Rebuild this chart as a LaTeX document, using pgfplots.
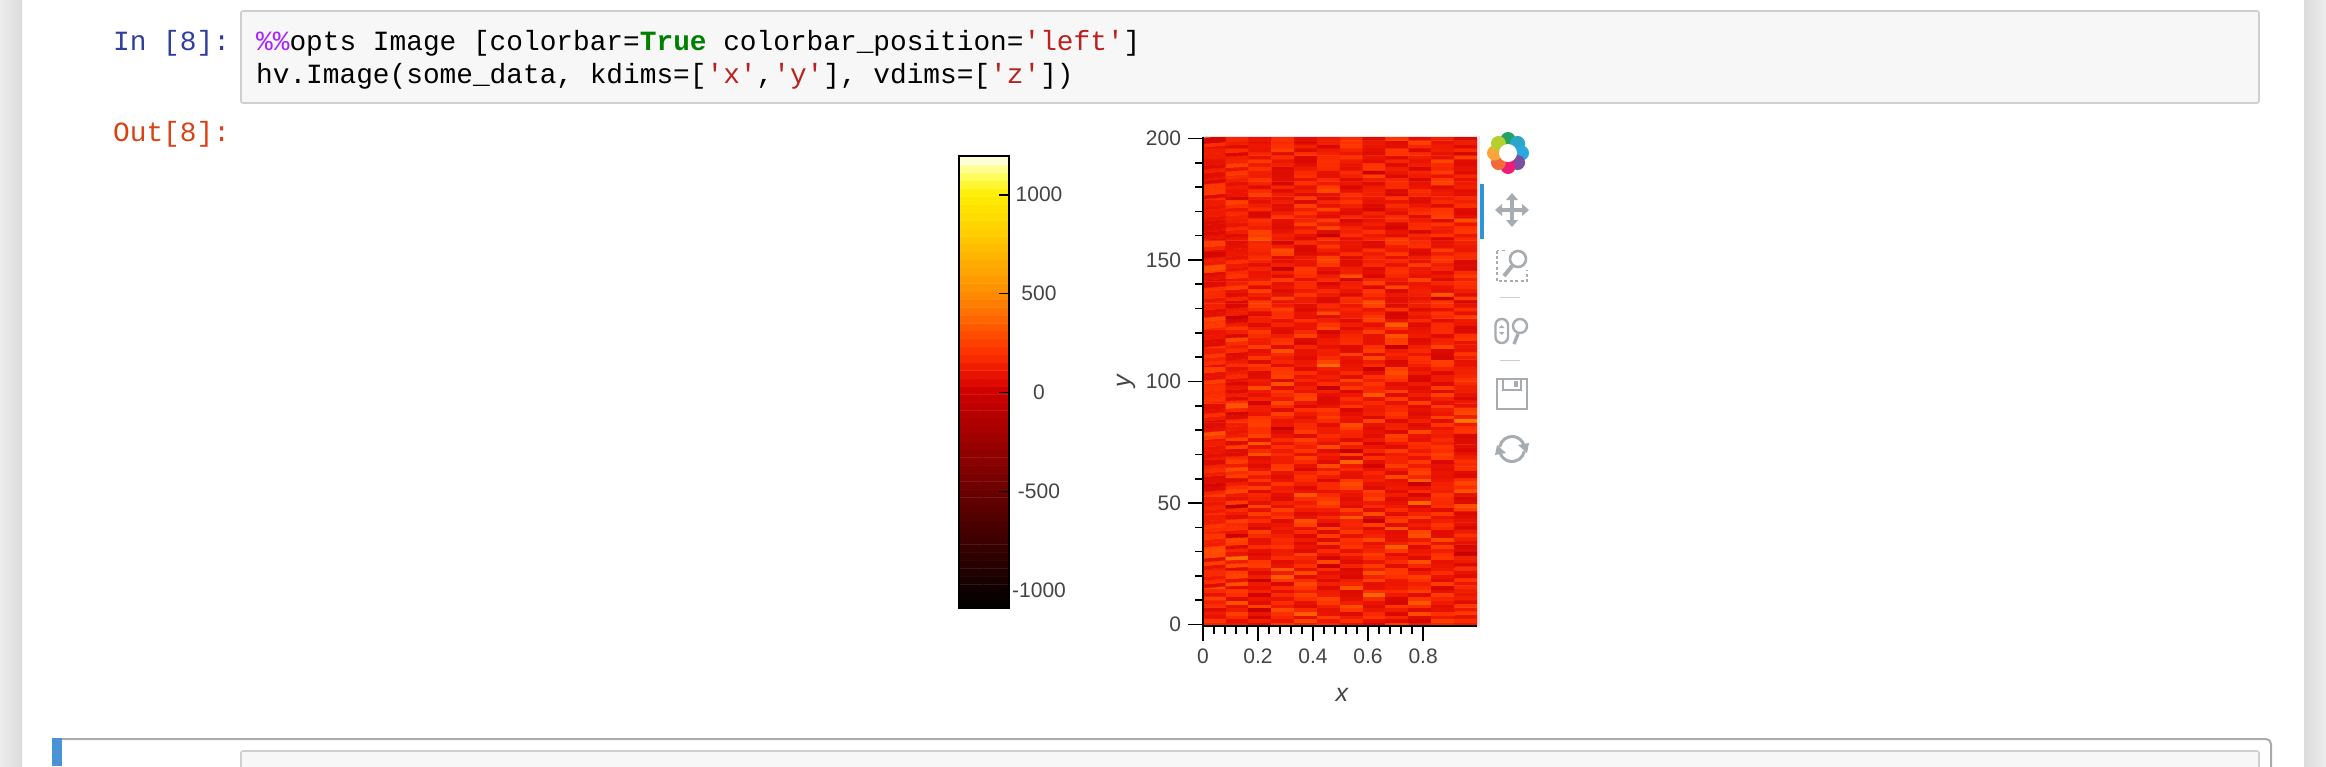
\documentclass[border=0pt]{standalone}
\usepackage{fontspec}
\setmainfont{Liberation Sans}
\newfontfamily\codefont{Liberation Mono}
\usepackage{pgfplots}
\usepackage{pgfplotstable}
\pgfplotsset{compat=1.18}
\definecolor{cellbg}{HTML}{F7F7F7}
\definecolor{cellln}{HTML}{CFCFCF}
\definecolor{promptin}{HTML}{303F9F}
\definecolor{promptout}{HTML}{D84315}
\definecolor{toolgr}{HTML}{A6ACAF}
\definecolor{lab}{HTML}{444444}
\definecolor{kwgreen}{HTML}{008000}
\definecolor{strred}{HTML}{BA2121}
\definecolor{magic}{HTML}{AA22FF}
\newcommand{\codesize}{\fontsize{27.8}{30}\selectfont\codefont}
\newcommand{\labsize}{\fontsize{21}{23}\selectfont}
\pgfplotsset{
  colormap={firemap}{
    rgb255(0)=(0,0,0)
    rgb255(590)=(106,0,0)
    rgb255(1090)=(205,0,0)
    rgb255(1190)=(235,20,0)
    rgb255(1290)=(255,50,0)
    rgb255(1590)=(255,140,0)
    rgb255(1890)=(255,205,0)
    rgb255(2090)=(255,238,0)
    rgb255(2190)=(255,255,100)
    rgb255(2286)=(255,255,255)
  },
  colormap name=firemap
}
% z values, one per line, 12 per image row, bottom row first
\pgfplotstableread[header=false]{
150
120
60
210
130
170
90
40
230
110
160
120
210
90
140
110
260
120
190
100
70
30
240
180
90
170
30
160
80
240
130
210
160
60
120
90
120
240
100
190
350
100
60
170
40
280
190
230
60
130
-20
280
170
90
220
110
130
60
90
120
180
90
250
120
60
140
290
60
210
190
70
210
140
300
70
180
90
220
130
100
30
320
120
60
240
60
110
100
190
250
80
170
40
210
160
140
90
190
20
170
250
130
60
380
120
60
230
110
170
220
150
80
140
120
50
190
180
240
80
130
290
70
90
170
210
60
310
90
120
170
30
170
60
300
120
40
270
140
160
80
110
140
230
110
190
90
-30
220
180
60
130
250
110
190
60
200
120
260
130
340
70
120
40
150
190
240
100
60
170
230
60
130
280
80
60
300
220
120
180
90
140
60
120
320
90
170
40
140
210
50
120
180
90
270
230
100
190
-10
150
230
70
160
110
40
240
130
210
70
130
270
60
110
170
290
90
120
70
400
90
180
160
30
100
190
130
60
210
140
280
100
50
130
240
110
180
240
70
130
190
-40
300
160
80
120
60
170
90
150
210
110
130
60
270
60
180
210
100
60
210
130
350
60
230
40
130
230
90
160
60
250
170
90
140
200
100
80
140
260
90
170
120
60
190
270
90
120
280
130
210
10
170
140
50
230
90
150
80
300
70
190
130
110
240
100
170
60
220
120
70
260
60
120
180
190
50
130
90
250
140
60
310
90
170
40
210
170
90
110
240
30
160
240
70
130
200
80
130
230
180
60
290
110
150
-20
230
90
140
90
130
70
120
210
90
170
330
60
190
250
100
60
190
120
230
160
60
90
130
280
70
150
210
40
120
170
90
240
120
130
240
70
180
100
60
230
150
-50
260
90
170
200
60
170
120
40
190
290
110
220
80
150
130
270
100
120
90
370
170
60
130
90
140
60
180
220
70
240
60
110
180
40
230
120
160
80
310
170
100
190
130
30
210
90
160
260
60
140
100
90
120
240
70
170
130
300
50
190
240
120
60
170
240
60
120
100
150
190
30
130
90
200
130
170
280
90
110
-10
140
260
70
60
210
100
170
50
220
140
90
330
110
180
60
240
120
70
190
130
80
120
270
160
90
50
130
180
220
100
150
210
90
160
60
250
100
60
180
290
110
240
40
120
170
100
130
210
70
190
150
130
60
210
90
280
120
20
230
130
90
170
60
230
100
130
170
60
360
80
150
220
40
190
120
170
70
130
240
110
40
190
150
100
210
130
80
60
300
170
90
140
260
60
130
190
250
90
110
60
170
120
210
70
-30
160
230
120
180
40
100
240
90
190
140
280
130
110
60
170
210
70
130
60
320
100
170
90
230
30
120
190
140
60
110
260
80
170
240
140
60
120
200
90
170
50
220
130
250
100
60
180
150
70
240
100
130
40
300
110
190
60
230
120
160
90
50
270
140
210
80
120
190
-20
170
130
230
60
150
80
100
190
60
130
240
110
170
70
290
90
140
60
210
120
40
180
230
100
130
170
90
250
60
140
70
430
120
60
200
160
80
230
110
50
170
90
250
130
190
30
100
240
120
170
80
140
210
60
110
280
90
160
130
60
190
220
40
120
170
90
130
240
70
310
120
170
50
100
210
130
160
60
230
90
140
190
20
270
110
60
130
170
90
240
80
120
200
60
150
120
260
50
180
100
220
70
140
40
190
130
90
170
230
80
110
330
60
130
250
90
170
60
120
210
100
140
40
170
240
90
60
130
190
110
280
70
140
-40
220
160
100
60
230
130
170
40
110
300
90
180
130
210
70
120
50
170
240
90
130
60
160
100
260
140
190
30
120
210
90
170
60
250
110
140
70
190
230
40
120
160
90
130
60
220
180
100
170
70
290
120
50
140
230
90
170
200
60
130
110
-10
240
90
150
130
60
180
210
70
120
390
100
170
50
140
230
90
190
120
60
160
110
260
80
130
40
180
240
90
150
70
210
130
60
170
100
280
120
190
30
140
220
60
110
170
90
130
250
70
160
110
40
210
130
180
80
300
90
140
60
230
120
170
50
100
200
130
240
70
160
90
60
190
-30
140
260
110
60
170
120
220
40
130
180
90
240
70
150
100
60
280
130
190
50
120
170
90
230
60
140
210
110
40
170
130
250
80
160
90
310
120
60
190
100
140
220
60
170
30
130
240
90
110
180
50
160
210
130
70
100
270
60
140
190
90
170
40
230
120
60
150
100
200
130
80
340
60
170
110
220
40
140
90
190
130
60
240
100
170
70
120
260
-20
150
190
90
60
130
210
40
110
170
230
80
130
60
180
100
290
120
160
30
140
200
90
70
120
170
240
50
130
160
100
210
60
90
180
140
40
230
120
70
170
110
260
60
130
190
90
150
50
220
100
130
60
170
280
80
140
210
40
110
160
90
250
120
60
190
130
70
100
-10
230
170
60
140
90
200
120
50
180
110
130
320
70
160
90
240
60
120
170
100
210
40
140
80
130
190
230
60
110
170
90
150
50
270
120
100
180
60
140
210
90
170
40
130
240
70
110
160
190
60
100
130
220
90
170
30
150
120
250
60
140
90
200
110
70
180
130
300
40
160
90
120
230
60
170
100
140
210
50
130
80
190
120
60
170
240
100
150
-30
220
90
130
60
180
110
160
40
290
120
70
140
100
200
60
170
90
230
130
50
120
190
150
80
110
260
60
140
170
90
210
40
130
100
180
70
120
240
60
160
90
130
200
170
30
110
140
250
60
90
180
120
220
50
130
170
70
100
160
280
40
140
90
190
120
60
230
110
150
80
170
130
50
210
100
60
140
190
90
120
240
70
160
30
180
130
100
60
220
170
90
140
50
110
300
120
60
190
80
150
210
130
40
170
100
60
230
140
90
-20
180
120
70
160
200
110
50
130
250
90
170
60
140
190
100
40
120
220
80
170
130
60
110
270
150
90
30
180
130
200
60
100
160
70
240
120
90
140
50
170
210
110
60
130
190
80
150
230
40
100
170
120
60
290
90
140
50
200
130
70
160
110
180
60
240
90
120
170
40
130
210
100
60
150
80
190
220
50
130
110
170
70
140
260
90
30
120
160
200
60
100
180
130
70
230
90
140
50
170
110
60
190
120
250
80
130
40
160
210
90
100
60
170
140
180
30
120
90
230
60
150
110
200
70
130
170
50
100
240
130
60
90
190
140
40
160
120
80
220
100
170
60
130
280
90
140
50
180
110
70
200
130
60
160
90
230
40
120
170
100
60
140
210
80
150
30
190
130
110
60
170
90
250
120
50
140
200
70
100
180
60
130
160
40
220
90
110
170
130
60
190
80
140
240
50
120
100
160
70
210
130
60
170
90
180
-10
110
150
230
60
140
100
190
50
120
170
80
210
130
40
160
90
60
240
120
140
70
180
100
200
50
130
170
60
90
150
220
110
40
190
130
70
160
100
260
60
120
140
90
180
50
170
210
100
60
130
90
230
120
40
160
70
190
140
110
60
200
170
90
30
130
180
100
240
60
120
150
80
210
50
130
170
90
60
110
190
140
40
220
100
70
160
120
60
180
130
90
170
50
140
200
110
60
240
90
130
30
160
100
190
70
120
170
60
210
80
140
50
130
180
100
60
230
90
150
}\zdata
\pgfplotstablegetrowsof{\zdata}
\pgfmathsetmacro{\nrows}{floor(\pgfplotsretval/12)}
\begin{document}
\begin{tikzpicture}
\begin{scope}[x=1pt,y=-1pt]
\path[use as bounding box] (0,0) rectangle (2326,766);
\fill[white] (0,0) rectangle (2326,766);
\shade[left color=gray!14,right color=gray!28] (0,0) rectangle (22,766);
\shade[left color=gray!28,right color=gray!14] (2304,0) rectangle (2326,766);
% input cell
\draw[cellln,fill=cellbg,line width=1.6pt,rounded corners=2pt] (241,11) rectangle (2259,103);
\node[anchor=base west,inner sep=0,text=promptin] at (113,50) {\codesize In [8]:};
\node[anchor=base west,inner sep=0,text=promptout] at (113,141) {\codesize Out[8]:};
\node[anchor=base west,inner sep=0] at (256,50) {\codesize\textcolor{magic}{\%\%}opts Image [colorbar=\textcolor{kwgreen}{\textbf{True}} colorbar\_position=\textcolor{strred}{'left'}]};
\node[anchor=base west,inner sep=0] at (256,83) {\codesize hv.Image(some\_data, kdims=[\textcolor{strred}{'x'},\textcolor{strred}{'y'}], vdims=[\textcolor{strred}{'z'}])};
% next cell at the bottom
\draw[black!33,line width=2pt] (62,739) -- (2266,739) arc (-90:0:5) -- (2271,770);
\fill[cyan!60!blue!75] (52,738) rectangle (62,766);
\begin{scope}
\clip (0,0) rectangle (2326,766);
\draw[cellln,fill=cellbg,line width=1.6pt,rounded corners=2pt] (241,751) rectangle (2259,790);
\end{scope}
% toolbar
\fill[black!10] (1477.5,137) rectangle (1480,626);
\fill[black!10] (1203,135.5) rectangle (1480,137);
\fill[cyan!70!blue!85] (1480,184) rectangle (1484,239);
\begin{scope}[shift={(1508,153)}]
\foreach \a/\c in {90/21A366,45/2AA6C8,0/2AA9E0,-45/7B4FA0,-90/EE1C74,-135/F26A3A,180/F9A53A,135/B5CF2F}{
  \definecolor{pet}{HTML}{\c}
  \fill[pet,rotate=\a] (13.5,0) ellipse (7.5 and 7.5);
}
\fill[white] (0,0) circle (9);
\end{scope}
\begin{scope}[shift={(1512,210)},toolgr]
\draw[line width=4pt] (-13,0) -- (13,0) (0,-13) -- (0,13);
\fill (-17,0) -- (-10,-6) -- (-10,6) -- cycle;
\fill (17,0) -- (10,-6) -- (10,6) -- cycle;
\fill (0,-17) -- (-6,-10) -- (6,-10) -- cycle;
\fill (0,17) -- (-6,10) -- (6,10) -- cycle;
\end{scope}
\begin{scope}[toolgr]
\draw[line width=1.6pt,dash pattern=on 3pt off 2.4pt] (1497,250.5) rectangle (1527,281);
\fill[white] (1506,249) rectangle (1529,270);
\draw[line width=2.6pt] (1518,259) circle (8);
\draw[line width=4pt] (1512,266) -- (1504,276);
\fill[black!20] (1500,296.5) rectangle (1520,298);
\draw[line width=2.4pt,rounded corners=6pt] (1495.5,319) rectangle (1508,343);
\fill (1501.7,325) -- (1499,328) -- (1504.5,328) -- cycle (1501.7,335) -- (1499,332) -- (1504.5,332) -- cycle;
\draw[line width=2.4pt] (1520,326) circle (7);
\draw[line width=3.4pt] (1518,334) -- (1514,344);
\fill[black!20] (1500,359.5) rectangle (1520,361);
\draw[line width=2pt] (1497,378.5) rectangle (1527,409);
\draw[line width=1.8pt] (1503,378.5) -- (1503,390) -- (1521,390) -- (1521,378.5);
\fill (1514,381) rectangle (1518,387);
\draw[line width=3pt] (1499.7,446.8) arc (190:340:12.5);
\draw[line width=3pt] (1524.3,451.2) arc (10:160:12.5);
\fill (1518,445) -- (1529,443) -- (1527,453) -- cycle;
\fill (1506,453) -- (1495,455) -- (1497,445) -- cycle;
\end{scope}
\end{scope}
% colour bar
\begin{axis}[
  at={(958.5pt,-608pt)}, anchor=south west,
  scale only axis, width=50.5pt, height=452pt,
  xmin=0, xmax=1, ymin=-1090, ymax=1196,
  axis line style={black,line width=2pt},
  xtick=\empty,
  ytick={-1000,-500,0,500,1000},
  ytick pos=right, yticklabel pos=right,
  tick align=inside, major tick length=10pt,
  tick style={black,line width=1.6pt},
  yticklabel style={font=\labsize,text=lab,anchor=center,xshift=30pt},
  /pgf/number format/assume math mode=true,
  /pgf/number format/set thousands separator={},
  point meta min=-1090, point meta max=1196,
  axis on top,
]
\addplot[matrix plot*,mesh/cols=2,point meta=y]
table[header=false,x expr={mod(\coordindex,2)*0.5+0.25},y index=0,row sep=\\] {
-1070\\-1070\\-1030\\-1030\\-990\\-990\\-950\\-950\\-910\\-910\\-870\\-870\\-830\\-830\\-790\\-790\\-750\\-750\\-710\\-710\\
-670\\-670\\-630\\-630\\-590\\-590\\-550\\-550\\-510\\-510\\-470\\-470\\-430\\-430\\-390\\-390\\-350\\-350\\-310\\-310\\
-270\\-270\\-230\\-230\\-190\\-190\\-150\\-150\\-110\\-110\\-70\\-70\\-30\\-30\\10\\10\\50\\50\\90\\90\\
130\\130\\170\\170\\210\\210\\250\\250\\290\\290\\330\\330\\370\\370\\410\\410\\450\\450\\490\\490\\
530\\530\\570\\570\\610\\610\\650\\650\\690\\690\\730\\730\\770\\770\\810\\810\\850\\850\\890\\890\\
930\\930\\970\\970\\1010\\1010\\1050\\1050\\1090\\1090\\1130\\1130\\1170\\1170\\
};
\end{axis}
% image
\begin{axis}[
  at={(1203pt,-626pt)}, anchor=south west,
  scale only axis, width=274pt, height=489pt,
  xmin=0, xmax=0.996, ymin=-0.6, ymax=200.6,
  axis x line*=bottom, axis y line*=left,
  axis line style={black,line width=2pt,-},
  xtick={0,0.2,0.4,0.6,0.8}, minor x tick num=4,
  ytick={0,50,100,150,200}, minor y tick num=4,
  xticklabels={0,0.2,0.4,0.6,0.8},
  tick style={black,line width=1.6pt},
  major tick length=15pt, minor tick length=8pt,
  tick align=outside,
  ticklabel style={font=\labsize,text=lab},
  /pgf/number format/assume math mode=true,
  xticklabel style={yshift=-4pt},
  yticklabel style={xshift=-3.5pt},
  xlabel={x}, ylabel={y},
  xlabel style={font=\fontsize{25}{25}\selectfont\itshape,text=lab,at={(axis description cs:0.507,-0.141)},anchor=center},
  ylabel style={font=\fontsize{25}{25}\selectfont\itshape,text=lab,at={(axis description cs:-0.281,0.501)},anchor=center},
  point meta min=-1090, point meta max=1196,
  axis on top,
]
\addplot[matrix plot*,mesh/cols=12,mesh/check=warning,point meta=explicit]
table[x index=0,y index=0,meta index=0,
  x expr={(mod(\coordindex,12)+0.5)*0.083},
  y expr={(floor(\coordindex/12)+0.5)*201.2/\nrows-0.6}] {\zdata};
\end{axis}
\end{tikzpicture}
\end{document}
